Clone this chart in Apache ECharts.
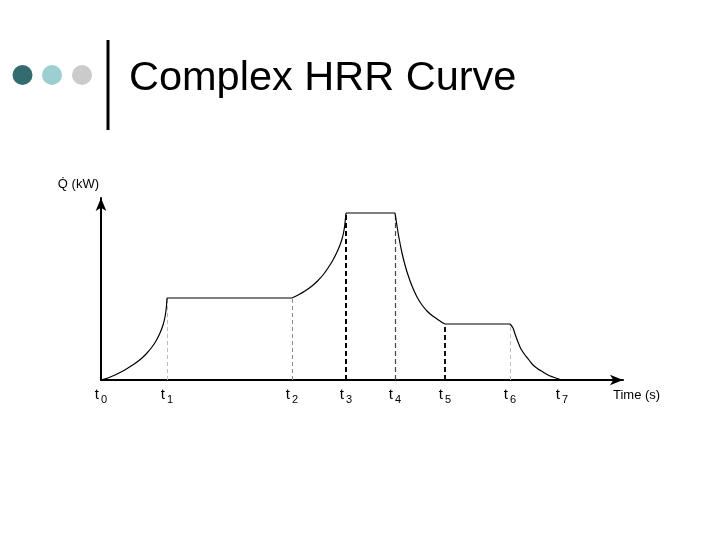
<!DOCTYPE html>
<html>
<head>
<meta charset="utf-8">
<script src="https://cdn.jsdelivr.net/npm/echarts@6/dist/echarts.min.js"></script>
<style>
html,body{margin:0;padding:0;background:#fff;}
#chart{width:720px;height:540px;}
</style>
</head>
<body>
<div id="chart"></div>
<script>
// ---- data (time units / HRR units, arbitrary) ----
var titleText = 'Complex HRR Curve';
var xAxisName = 'Time (s)';
var yAxisName = 'Q\u0307 (kW)';
var tickSubscripts = ['0', '1', '2', '3', '4', '5', '6', '7'];
var tickTimes = [0, 66, 191, 245, 294, 344, 409, 461];
var guideLevels = [0, 82, 82, 167, 167, 56, 56, 0];

// curve segments [time, hrr]
var growth1 = [[0,0],[7,2],[14,5],[21,8.5],[27,12],[34,16.5],[41,22],[46,27],[51,33],[55,39],[59,47],[62,55],[64,63],[65.3,72],[66,82]];
var plateau1 = [[66,82],[191,82]];
var growth2 = [[191,82],[198,85.5],[204,89],[211,94],[217,99.5],[222,105],[227,112],[232,120],[236,128],[239,135],[241,141],[242.5,147],[243.5,153],[244.3,160],[245,167]];
var plateau2 = [[245,167],[294,167]];
var decay1 = [[294,167],[296,154],[298,142],[301,127],[304,115],[307,105],[311,94],[316,83],[321,75],[326,69],[331,64.5],[336,61],[340,58.3],[344,56]];
var plateau3 = [[344,56],[409,56]];
var decay2 = [[409,56],[412,52],[414,46],[417,38],[420,31],[424,25],[428,20],[432,15],[437,11],[442,8],[447,5],[452,3],[457,1.2],[461,0]];

var chart = echarts.init(document.getElementById('chart'), null, {renderer:'canvas'});

function seg(name, data, smooth) {
  return {
    name: name, type: 'line', data: data, smooth: smooth ? 0.3 : false,
    showSymbol: false, symbol: 'none', silent: true,
    lineStyle: {color: '#000', width: 1.2}, z: 5
  };
}

var guideStyles = [
  null,
  {color:'#bdbdbd', width:1, type:[4,3]},
  {color:'#8a8a8a', width:1, type:[4,3]},
  {color:'#000', width:2, type:[5,3]},
  {color:'#444', width:1.2, type:[5,3]},
  {color:'#111', width:2, type:[5,3]},
  {color:'#bdbdbd', width:1, type:[4,3]},
  null
];
var guideData = [];
for (var i = 0; i < tickTimes.length; i++) {
  if (guideStyles[i] && guideLevels[i] > 0) {
    guideData.push([
      {coord:[tickTimes[i], 0], lineStyle: guideStyles[i]},
      {coord:[tickTimes[i], guideLevels[i]]}
    ]);
  }
}

var FONT = 'Liberation Sans, Arial, sans-serif';

var option = {
  backgroundColor: '#fff',
  animation: false,
  title: {
    text: titleText,
    left: 124, top: 53,
    textStyle: {fontFamily: FONT, fontSize: 41.5, fontWeight: 'normal', color:'#000'}
  },
  graphic: [
    {type:'circle', shape:{cx:22.5, cy:75, r:10}, style:{fill:'#336b6e'}},
    {type:'circle', shape:{cx:52, cy:75, r:10}, style:{fill:'#9ccfd1'}},
    {type:'circle', shape:{cx:82, cy:75, r:10}, style:{fill:'#cbcbcb'}},
    {type:'rect', shape:{x:106.5, y:40, width:3, height:90}, style:{fill:'#000'}}
  ],
  grid: {left: 101, top: 198, width: 522, height: 182, containLabel: false},
  xAxis: {
    type: 'value', min: 0, max: 522,
    name: xAxisName, nameLocation: 'end', nameGap: 0,
    nameTextStyle: {fontFamily: FONT, fontSize: 13, color:'#000',
      align:'left', verticalAlign:'top', padding:[9,0,0,-10]},
    axisLine: {show:true, onZero:true, symbol:['none','arrow'], symbolSize:[8,13], symbolOffset:[0,0],
      lineStyle:{color:'#000', width:2}},
    axisTick: {show:false},
    splitLine: {show:false},
    axisLabel: {
      show: true, customValues: tickTimes, margin: 7,
      formatter: function (v) {
        var k = tickTimes.indexOf(v);
        return '{t|t}{s|' + tickSubscripts[k] + '}';
      },
      rich: {
        t: {fontFamily: FONT, fontSize: 15, color:'#000', verticalAlign:'bottom', padding:[0,2,3,0]},
        s: {fontFamily: FONT, fontSize: 11, color:'#000', verticalAlign:'bottom'}
      }
    }
  },
  yAxis: {
    type: 'value', min: 0, max: 182,
    name: yAxisName, nameLocation: 'end', nameGap: 7,
    nameTextStyle: {fontFamily: FONT, fontSize: 13, color:'#000', align:'right', padding:[0,2,0,0]},
    axisLine: {show:true, symbol:['none','arrow'], symbolSize:[8,13], lineStyle:{color:'#000', width:2}},
    axisTick: {show:false},
    splitLine: {show:false},
    axisLabel: {show:false}
  },
  series: [
    {
      name: 'guides', type: 'line', data: [], silent: true,
      markLine: {silent:true, symbol:['none','none'], label:{show:false}, animation:false, data: guideData}
    },
    seg('growth1', growth1, true),
    seg('plateau1', plateau1, false),
    seg('growth2', growth2, true),
    seg('plateau2', plateau2, false),
    seg('decay1', decay1, true),
    seg('plateau3', plateau3, false),
    seg('decay2', decay2, true)
  ]
};
chart.setOption(option);
</script>
</body>
</html>
